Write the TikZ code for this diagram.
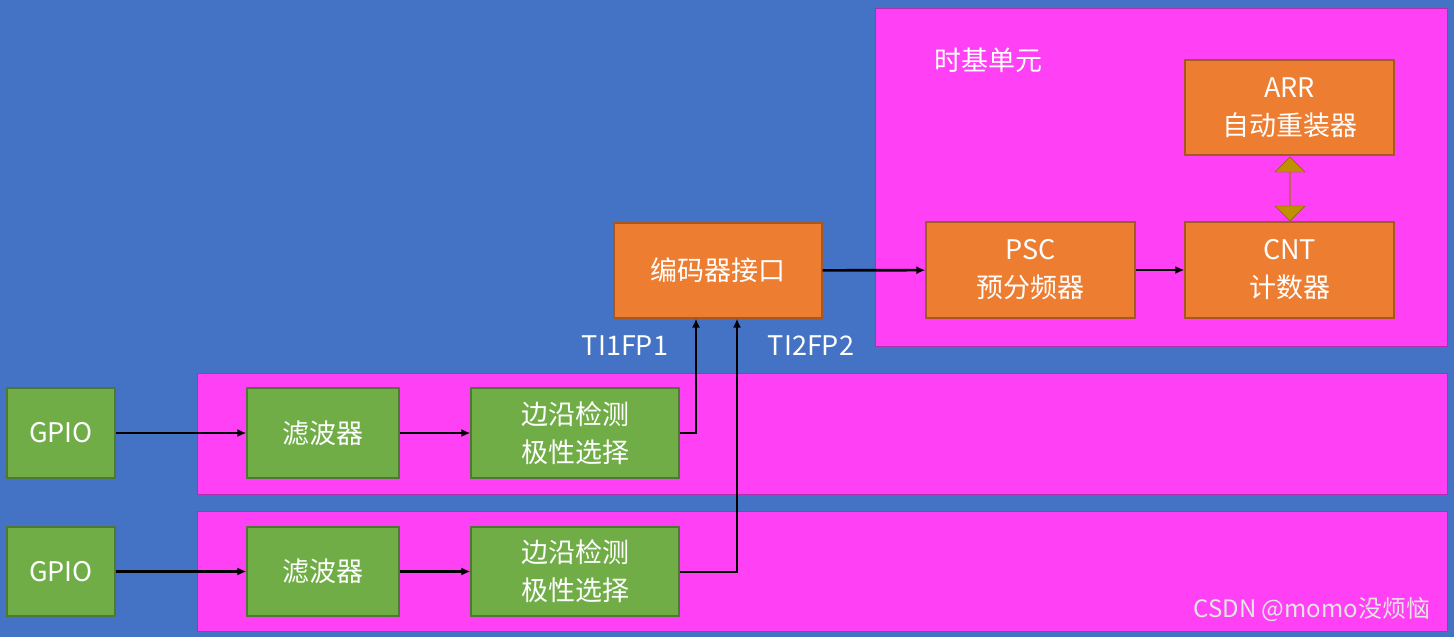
\documentclass[tikz,border=0pt]{standalone}
\usepackage{fontspec}
\setmainfont{Noto Sans CJK SC}
\usetikzlibrary{arrows.meta,shapes.arrows}
\definecolor{bg}{HTML}{4472C4}
\definecolor{mag}{HTML}{FF40F4}
\definecolor{org}{HTML}{ED7D31}
\definecolor{grn}{HTML}{70AD47}
\definecolor{gold}{HTML}{BF9000}
\begin{document}
\begin{tikzpicture}[x=1pt,y=-1pt,
  box/.style={draw=#1!70!black,line width=1.2pt,fill=#1,text=white,align=center,font=\fontsize{27}{38}\selectfont,inner sep=0pt},
  band/.style={draw=mag!70!black,line width=1pt,fill=mag},
  conn/.style={line width=2.6pt,-{Latex[length=9pt,width=8pt]}},
  lbl/.style={text=white,font=\fontsize{27}{32}\selectfont}]
\fill[bg] (0,0) rectangle (1454,637);
\useasboundingbox (0,0) rectangle (1454,637);
\draw[band] (875,8) rectangle (1447,346);
\draw[band] (197,373) rectangle (1447,494);
\draw[band] (197,511) rectangle (1447,631);
\node[lbl] (tb) at (988,60) {时基单元};
\node[box=org,minimum width=209pt,minimum height=95pt] (arr) at (1289.5,107.5) {ARR\\自动重装器};
\node[box=org,minimum width=209pt,minimum height=96pt] (psc) at (1030.5,270) {PSC\\预分频器};
\node[box=org,minimum width=209pt,minimum height=96pt] (cnt) at (1289.5,270) {CNT\\计数器};
\node[box=org,minimum width=208pt,minimum height=95pt] (enc) at (718,270.5) {编码器接口};
\node[draw=gold!70!black,fill=gold,double arrow,double arrow head extend=6pt,shape border rotate=90,minimum width=30pt,minimum height=64pt,inner sep=0pt] (dbl) at (1290,189) {};
\node[box=grn,minimum width=108pt,minimum height=90pt] (g1) at (61,433) {GPIO};
\node[box=grn,minimum width=108pt,minimum height=89pt] (g2) at (61,571.5) {GPIO};
\node[box=grn,minimum width=152pt,minimum height=90pt] (f1) at (323,433) {滤波器};
\node[box=grn,minimum width=152pt,minimum height=89pt] (f2) at (323,571.5) {滤波器};
\node[box=grn,minimum width=208pt,minimum height=90pt] (e1) at (575,433) {边沿检测\\极性选择};
\node[box=grn,minimum width=208pt,minimum height=89pt] (e2) at (575,571.5) {边沿检测\\极性选择};
\draw[conn] (g1) -- (f1);
\draw[conn] (f1) -- (e1);
\draw[conn] (g2) -- (f2);
\draw[conn] (f2) -- (e2);
\draw[conn] (enc) -- (psc);
\draw[conn] (psc) -- (cnt);
\coordinate (c1) at (696,433);
\coordinate (c2) at (737,572);
\draw[conn] (e1.east) -- (c1) -- (c1 |- enc.south);
\draw[conn] (e2.east |- c2) -- (c2) -- (c2 |- enc.south);
\node[lbl] (t1) at (625,346) {TI1FP1};
\node[lbl] (t2) at (811,346) {TI2FP2};
\node[text=white!80!gray,font=\fontsize{24}{28}\selectfont] (wm) at (1312,609) {CSDN @momo没烦恼};
\end{tikzpicture}
\end{document}
